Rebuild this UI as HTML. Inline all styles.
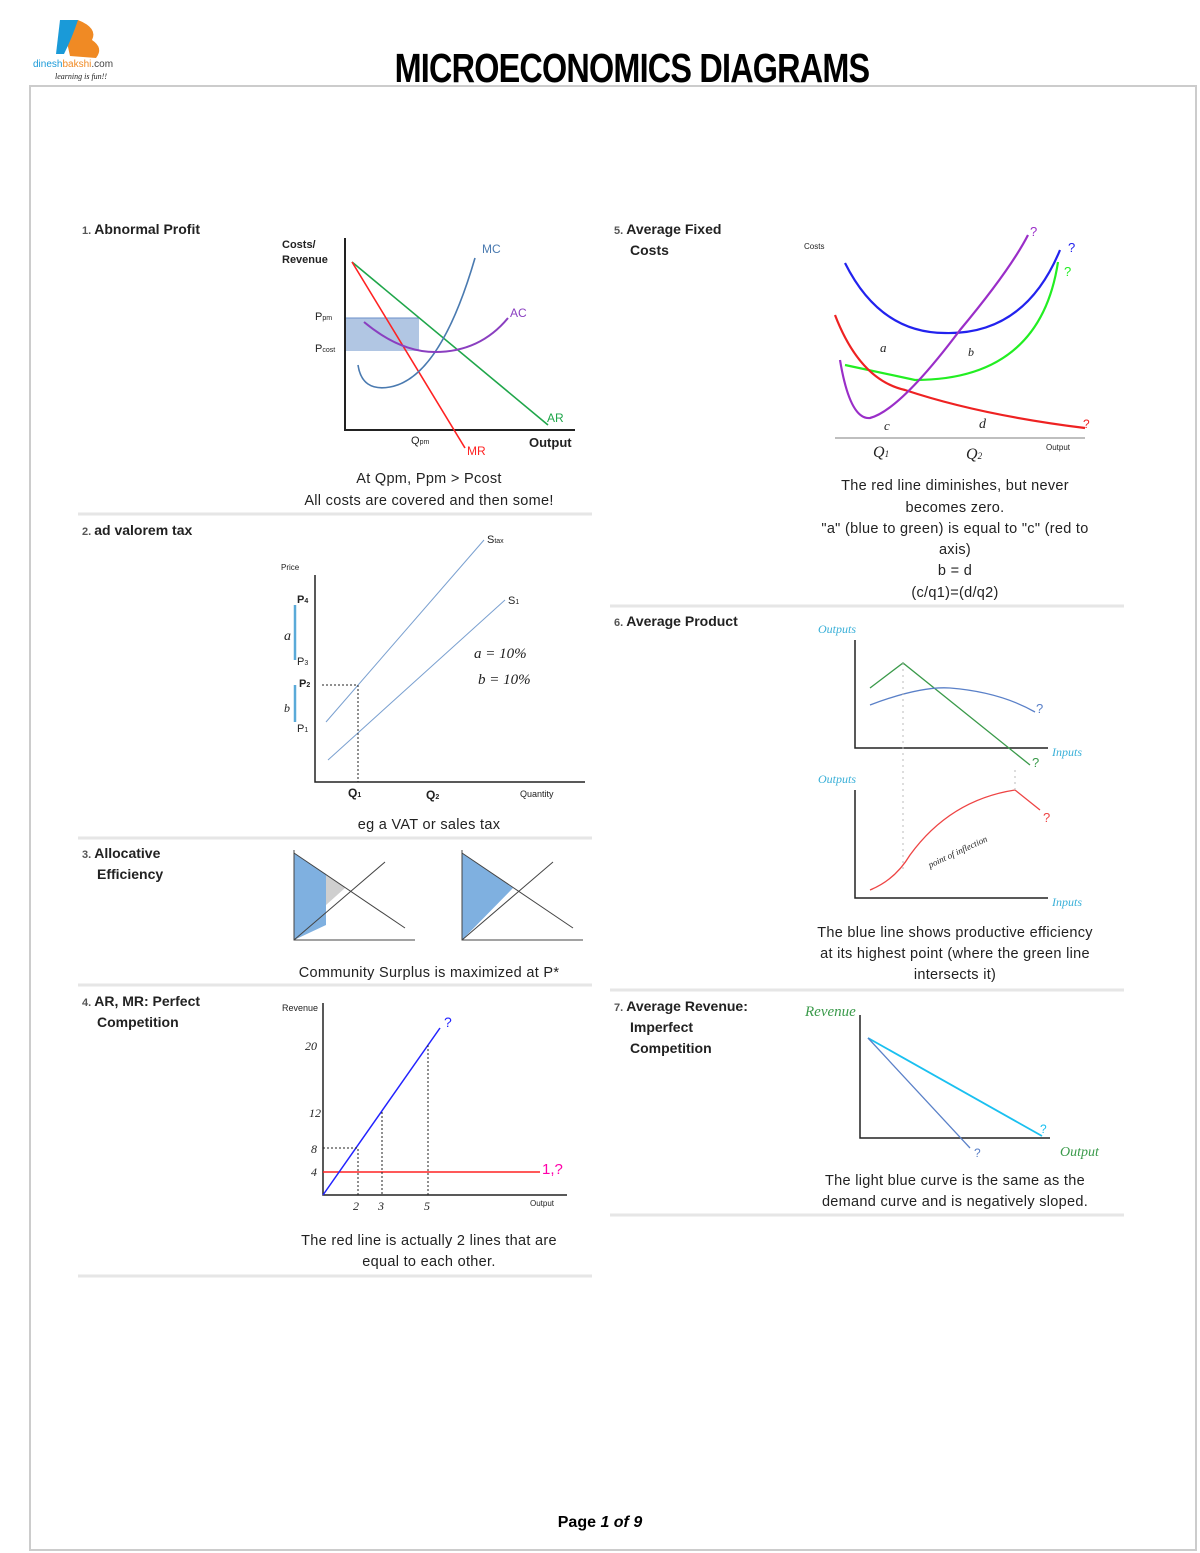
<!DOCTYPE html>
<html><head><meta charset="utf-8">
<style>
html,body{margin:0;padding:0;background:#fff}
svg{display:block}
text{font-family:"Liberation Sans",sans-serif;fill:#222}
.t{font-size:14px;font-weight:bold}
.n{font-size:11px;fill:#555}
.c{font-size:14.5px;text-anchor:middle;letter-spacing:0.3px}
.s{font-size:11px}
.h{font-family:"Liberation Serif",serif;font-style:italic}
</style></head><body>
<svg width="1200" height="1553" viewBox="0 0 1200 1553" xmlns="http://www.w3.org/2000/svg">
<!-- logo -->
<path d="M62,20 L78,20 Q98,28 92,40 Q104,48 96,58 L70,56 Z" fill="#f08a24"/>
<path d="M60,20 L78,20 Q72,38 64,54 L56,54 Z" fill="#1a9ad8"/>
<text x="33" y="67" style="font-size:10px;fill:#1a9ad8">dinesh<tspan fill="#f08a24">bakshi</tspan><tspan fill="#444">.com</tspan></text>
<text x="55" y="79" class="h" style="font-size:8px">learning is fun!!</text>
<!-- title -->
<text x="632" y="82" text-anchor="middle" style="font-family:'Liberation Sans Narrow','Liberation Sans',sans-serif;font-weight:bold;font-size:41px;letter-spacing:-1px;fill:#000" transform="translate(632,0) scale(0.79,1) translate(-632,0)">MICROECONOMICS DIAGRAMS</text>
<!-- page border -->
<rect x="30" y="86" width="1166" height="1464" fill="none" stroke="#ccc" stroke-width="2"/>
<!-- separators -->
<g stroke="#e6e6e6" stroke-width="3">
<line x1="78" y1="514" x2="592" y2="514"/><line x1="78" y1="838" x2="592" y2="838"/>
<line x1="78" y1="985" x2="592" y2="985"/><line x1="78" y1="1276" x2="592" y2="1276"/>
<line x1="610" y1="606" x2="1124" y2="606"/><line x1="610" y1="990" x2="1124" y2="990"/>
<line x1="610" y1="1215" x2="1124" y2="1215"/>
</g>
<!-- titles -->
<text x="82" y="234" class="t"><tspan class="n">1. </tspan>Abnormal Profit</text>
<text x="82" y="535" class="t"><tspan class="n">2. </tspan>ad valorem tax</text>
<text x="82" y="858" class="t"><tspan class="n">3. </tspan>Allocative</text>
<text x="97" y="879" class="t">Efficiency</text>
<text x="82" y="1006" class="t"><tspan class="n">4. </tspan>AR, MR: Perfect</text>
<text x="97" y="1027" class="t">Competition</text>
<text x="614" y="234" class="t"><tspan class="n">5. </tspan>Average Fixed</text>
<text x="630" y="255" class="t">Costs</text>
<text x="614" y="626" class="t"><tspan class="n">6. </tspan>Average Product</text>
<text x="614" y="1011" class="t"><tspan class="n">7. </tspan>Average Revenue:</text>
<text x="630" y="1032" class="t">Imperfect</text>
<text x="630" y="1053" class="t">Competition</text>

<!-- D1 -->
<rect x="345" y="318" width="74" height="33" fill="#a9c0e0" opacity="0.9"/>
<line x1="345" y1="318" x2="419" y2="318" stroke="#6a8fc8"/>
<polyline points="345,238 345,430 575,430" fill="none" stroke="#222" stroke-width="2"/>
<line x1="352" y1="262" x2="548" y2="425" stroke="#1fa64a" stroke-width="1.6"/>
<line x1="352" y1="262" x2="465" y2="448" stroke="#f22" stroke-width="1.6"/>
<path d="M358,365 Q362,392 390,387 Q440,378 475,258" fill="none" stroke="#4a7ab0" stroke-width="1.6"/>
<path d="M364,322 Q400,352 435,352 Q480,352 508,318" fill="none" stroke="#8a3fc0" stroke-width="2"/>
<text x="282" y="248" style="font-size:11px;font-weight:bold">Costs/</text>
<text x="282" y="263" style="font-size:11px;font-weight:bold">Revenue</text>
<text x="315" y="320" class="s">P<tspan style="font-size:7px">pm</tspan></text>
<text x="315" y="352" class="s">P<tspan style="font-size:7px">cost</tspan></text>
<text x="482" y="253" style="font-size:12px;fill:#4a7ab0">MC</text>
<text x="510" y="317" style="font-size:12px;fill:#8a3fc0">AC</text>
<text x="547" y="422" style="font-size:12px;fill:#1fa64a">AR</text>
<text x="467" y="455" style="font-size:12px;fill:#f22">MR</text>
<text x="411" y="444" class="s">Q<tspan style="font-size:7px">pm</tspan></text>
<text x="529" y="447" style="font-size:13px;font-weight:bold">Output</text>
<text x="429" y="483" class="c">At Qpm, Ppm &gt; Pcost</text>
<text x="429" y="505" class="c">All costs are covered and then some!</text>

<!-- D2 -->
<polyline points="315,575 315,782 585,782" fill="none" stroke="#222" stroke-width="1.5"/>
<line x1="326" y1="722" x2="484" y2="540" stroke="#7aa0d0"/>
<line x1="328" y1="760" x2="505" y2="600" stroke="#7aa0d0"/>
<polyline points="322,685 358,685 358,782" fill="none" stroke="#222" stroke-dasharray="2,2"/>
<line x1="295" y1="660" x2="295" y2="605" stroke="#5aaad8" stroke-width="2.5"/>
<line x1="295" y1="722" x2="295" y2="685" stroke="#5aaad8" stroke-width="2.5"/>
<text x="281" y="570" style="font-size:8px">Price</text>
<text x="297" y="603" class="s" style="font-weight:bold">P<tspan style="font-size:7px">4</tspan></text>
<text x="297" y="665" class="s">P<tspan style="font-size:7px">3</tspan></text>
<text x="299" y="687" class="s" style="font-weight:bold">P<tspan style="font-size:7px">2</tspan></text>
<text x="297" y="732" class="s">P<tspan style="font-size:7px">1</tspan></text>
<text x="284" y="640" class="h" style="font-size:14px">a</text>
<text x="284" y="712" class="h" style="font-size:12px">b</text>
<text x="487" y="543" class="s">S<tspan style="font-size:7px">tax</tspan></text>
<text x="508" y="604" class="s">S<tspan style="font-size:7px">1</tspan></text>
<text x="474" y="658" class="h" style="font-size:15px">a = 10%</text>
<text x="478" y="684" class="h" style="font-size:15px">b = 10%</text>
<text x="348" y="797" style="font-size:12px;font-weight:bold">Q<tspan style="font-size:7px">1</tspan></text>
<text x="426" y="799" style="font-size:12px;font-weight:bold">Q<tspan style="font-size:7px">2</tspan></text>
<text x="520" y="797" style="font-size:9px">Quantity</text>
<text x="429" y="829" class="c">eg a VAT or sales tax</text>

<!-- D3 -->
<polygon points="294,853 326,874 326,925 294,940" fill="#7fb0e0"/>
<polygon points="326,874 345,888 326,905" fill="#cfcfcf"/>
<polyline points="294,850 294,940 415,940" fill="none" stroke="#444"/>
<line x1="294" y1="853" x2="405" y2="928" stroke="#444"/>
<line x1="294" y1="940" x2="385" y2="862" stroke="#444"/>
<polygon points="462,853 513,888 462,940" fill="#7fb0e0"/>
<polyline points="462,850 462,940 583,940" fill="none" stroke="#444"/>
<line x1="462" y1="853" x2="573" y2="928" stroke="#444"/>
<line x1="462" y1="940" x2="553" y2="862" stroke="#444"/>
<text x="429" y="977" class="c">Community Surplus is maximized at P*</text>

<!-- D4 -->
<polyline points="323,1003 323,1195 567,1195" fill="none" stroke="#222" stroke-width="1.5"/>
<line x1="323" y1="1172" x2="540" y2="1172" stroke="#f22" stroke-width="1.5"/>
<line x1="323" y1="1195" x2="440" y2="1028" stroke="#22f" stroke-width="1.5"/>
<g stroke="#222" stroke-dasharray="2,2"><polyline points="323,1148 358,1148 358,1195" fill="none"/><line x1="382" y1="1112" x2="382" y2="1195"/><line x1="428" y1="1045" x2="428" y2="1195"/></g>
<text x="282" y="1011" style="font-size:9px">Revenue</text>
<text x="305" y="1050" class="h" style="font-size:12px">20</text>
<text x="309" y="1117" class="h" style="font-size:12px">12</text>
<text x="311" y="1153" class="h" style="font-size:12px">8</text>
<text x="311" y="1176" class="h" style="font-size:12px">4</text>
<text x="353" y="1210" class="h" style="font-size:12px">2</text>
<text x="378" y="1210" class="h" style="font-size:12px">3</text>
<text x="424" y="1210" class="h" style="font-size:12px">5</text>
<text x="530" y="1206" style="font-size:8px">Output</text>
<text x="444" y="1027" style="font-size:14px;fill:#22f">?</text>
<text x="542" y="1174" style="font-size:15px;fill:#f0a">1,?</text>
<text x="429" y="1245" class="c">The red line is actually 2 lines that are</text>
<text x="429" y="1266" class="c">equal to each other.</text>

<!-- D5 -->
<line x1="835" y1="438" x2="1085" y2="438" stroke="#aaa" stroke-width="1.5"/>
<path d="M845,263 Q880,333 945,333 Q1025,335 1060,250" fill="none" stroke="#22e" stroke-width="2.2"/>
<path d="M845,365 L915,380 Q1040,380 1058,262" fill="none" stroke="#2e2" stroke-width="2.2"/>
<path d="M835,315 Q860,380 905,390 Q980,415 1085,428" fill="none" stroke="#e22" stroke-width="2.2"/>
<path d="M840,360 Q850,420 870,418 Q900,410 960,330 Q1010,270 1028,235" fill="none" stroke="#9a2ec8" stroke-width="2.2"/>
<text x="804" y="249" style="font-size:8px">Costs</text>
<text x="1030" y="236" style="font-size:13px;fill:#9a2ec8">?</text>
<text x="1068" y="252" style="font-size:13px;fill:#22e">?</text>
<text x="1064" y="276" style="font-size:13px;fill:#2e2">?</text>
<text x="1083" y="428" style="font-size:12px;fill:#e22">?</text>
<text x="880" y="352" class="h" style="font-size:13px">a</text>
<text x="968" y="356" class="h" style="font-size:12px">b</text>
<text x="884" y="430" class="h" style="font-size:13px">c</text>
<text x="979" y="428" class="h" style="font-size:14px">d</text>
<text x="873" y="457" class="h" style="font-size:16px">Q<tspan style="font-size:9px">1</tspan></text>
<text x="966" y="459" class="h" style="font-size:16px">Q<tspan style="font-size:9px">2</tspan></text>
<text x="1046" y="450" style="font-size:8px">Output</text>
<text x="955" y="490" class="c">The red line diminishes, but never</text>
<text x="955" y="512" class="c">becomes zero.</text>
<text x="955" y="533" class="c">"a" (blue to green) is equal to "c" (red to</text>
<text x="955" y="554" class="c">axis)</text>
<text x="955" y="575" class="c">b = d</text>
<text x="955" y="597" class="c">(c/q1)=(d/q2)</text>

<!-- D6 -->
<polyline points="855,640 855,748 1048,748" fill="none" stroke="#222" stroke-width="1.5"/>
<path d="M870,688 L903,663 L1030,765" fill="none" stroke="#3a9a4a" stroke-width="1.3"/>
<path d="M870,705 Q920,686 950,688 Q1000,692 1035,712" fill="none" stroke="#5a80c8" stroke-width="1.3"/>
<polyline points="855,790 855,898 1048,898" fill="none" stroke="#222" stroke-width="1.5"/>
<path d="M870,890 Q895,880 910,855 Q950,800 1015,790 L1040,810" fill="none" stroke="#e44" stroke-width="1.3"/>
<line x1="903" y1="663" x2="903" y2="870" stroke="#bbb" stroke-dasharray="2,4"/>
<line x1="1015" y1="770" x2="1015" y2="790" stroke="#bbb" stroke-dasharray="2,4"/>
<text x="818" y="633" class="h" style="font-size:12px;fill:#3ab0d8">Outputs</text>
<text x="818" y="783" class="h" style="font-size:12px;fill:#3ab0d8">Outputs</text>
<text x="1052" y="756" class="h" style="font-size:12px;fill:#3ab0d8">Inputs</text>
<text x="1052" y="906" class="h" style="font-size:12px;fill:#3ab0d8">Inputs</text>
<text x="1036" y="713" style="font-size:13px;fill:#5a80c8">?</text>
<text x="1032" y="767" style="font-size:13px;fill:#3a9a4a">?</text>
<text x="1043" y="822" style="font-size:13px;fill:#e44">?</text>
<text x="930" y="868" class="h" style="font-size:9px" transform="rotate(-25 930 868)">point of inflection</text>
<text x="955" y="937" class="c">The blue line shows productive efficiency</text>
<text x="955" y="958" class="c">at its highest point (where the green line</text>
<text x="955" y="979" class="c">intersects it)</text>

<!-- D7 -->
<polyline points="860,1015 860,1138 1050,1138" fill="none" stroke="#222" stroke-width="1.5"/>
<line x1="868" y1="1038" x2="1042" y2="1136" stroke="#1ac0f0" stroke-width="1.8"/>
<line x1="868" y1="1038" x2="970" y2="1148" stroke="#5a80c8" stroke-width="1.3"/>
<text x="805" y="1016" class="h" style="font-size:15px;fill:#3a9a4a">Revenue</text>
<text x="1060" y="1156" class="h" style="font-size:14px;fill:#3a9a4a">Output</text>
<text x="1040" y="1133" style="font-size:12px;fill:#1ac0f0">?</text>
<text x="974" y="1157" style="font-size:12px;fill:#5a80c8">?</text>
<text x="955" y="1185" class="c">The light blue curve is the same as the</text>
<text x="955" y="1206" class="c">demand curve and is negatively sloped.</text>

<!-- footer -->
<text x="600" y="1527" text-anchor="middle" style="font-size:16px;font-weight:bold;fill:#000">Page <tspan font-style="italic">1 of 9</tspan></text>
</svg>
</body></html>
